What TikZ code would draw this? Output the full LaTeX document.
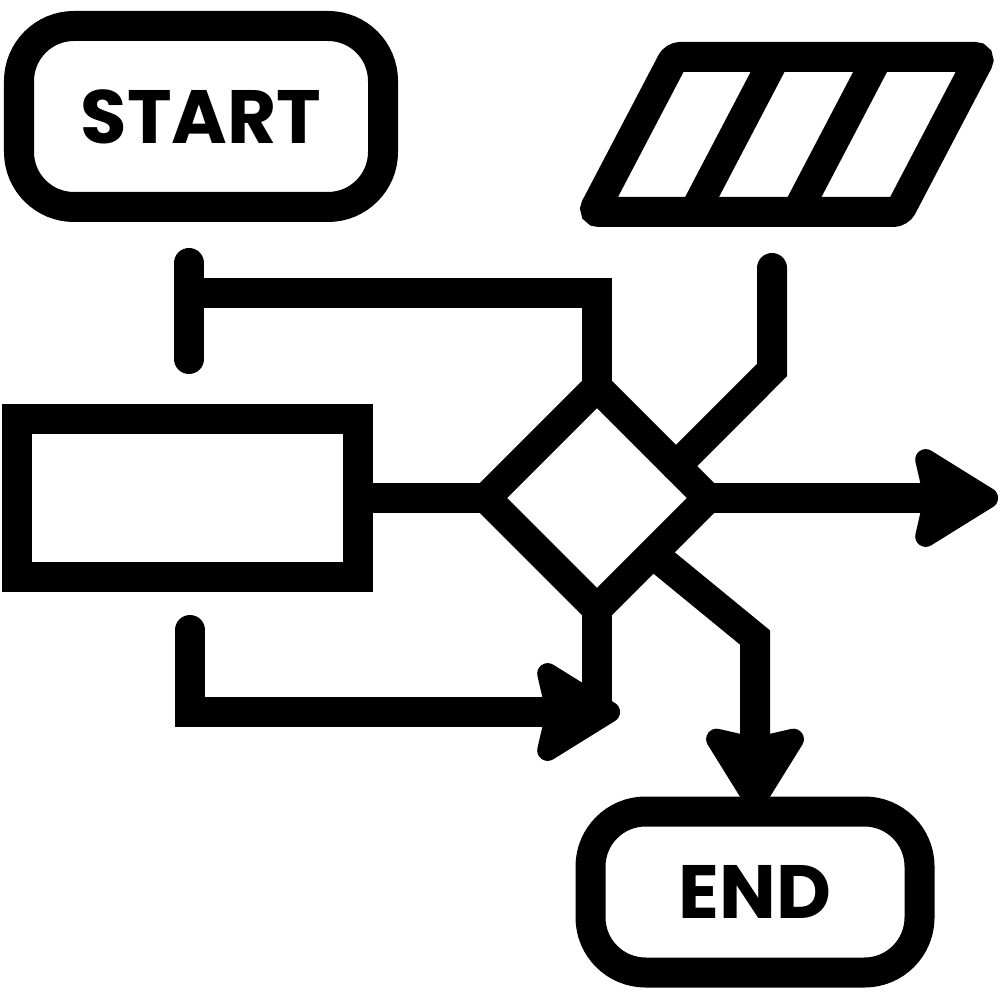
\documentclass[tikz,border=0pt]{standalone}
\usepackage{fontspec}
\newfontfamily\iconfont{Poppins}
\usepackage{tikz}
\usetikzlibrary{arrows.meta,shapes.geometric,calc}

\begin{document}
\begin{tikzpicture}[line width=3mm,
  terminal/.style={rectangle,rounded corners=5.5mm,draw,outer sep=0pt,
    font=\iconfont\bfseries\fontsize{21.5}{22}\selectfont},
  flow/.style={-{Stealth[round,length=9.6mm 0 0,width=11.6mm 0 0,inset=1.2mm 0]}}]
\path[use as bounding box] (0,0) rectangle (10,-10);

\node (start)[terminal,minimum width=3.64cm,minimum height=1.81cm] at (2.01,-1.165) {START};

% data shape
\coordinate (dataTL) at (6.744,-0.57);
\coordinate (dataTR) at (9.804,-0.57);
\coordinate (dataBR) at (8.992,-2.12);
\coordinate (dataBL) at (5.932,-2.12);
\draw[rounded corners=0.6mm] (dataTL) -- (dataTR) -- (dataBR) -- (dataBL) -- cycle;
\foreach \f in {0.33,0.665}
  \draw ($(dataTL)!\f!(dataTR)$) -- ($(dataBL)!\f!(dataBR)$);

\node (proc)[rectangle,draw,outer sep=0pt,minimum width=3.41cm,minimum height=1.57cm] at (1.875,-4.98) {};
\node (decision)[diamond,aspect=1,draw,outer sep=0pt,inner sep=0pt,minimum size=2.22cm] at (5.97,-4.98) {};
\node (endbox)[terminal,minimum width=3.29cm,minimum height=1.61cm] at (7.55,-8.92) {END};

% loose ends
\coordinate (barTop) at (1.89,-2.63);
\coordinate (barBot) at (1.89,-3.59);
\coordinate (tjoin) at (1.89,-2.93);
\coordinate (inTop) at (7.72,-2.68);
\coordinate (loopTop) at (1.90,-6.30);
\coordinate (mergeTip) at (6.20,-7.12);
\coordinate (outTip) at (9.98,-4.98);

\draw[line cap=round] (barTop) -- (barBot);
\draw (tjoin) -| (decision.north);
\draw[line cap=round] (inTop) -- ++(0,-1.02) -- (decision.22);

\draw (proc.east) -- (decision.west);
\draw[flow] (decision.east) -- (outTip);
\draw[flow] (decision.south east) -- ++(1.025,-0.84) -- (endbox.north);

\draw (decision.south) -- (decision.south |- mergeTip);
\draw[flow,line cap=round] (loopTop) |- (mergeTip);
\end{tikzpicture}
\end{document}
